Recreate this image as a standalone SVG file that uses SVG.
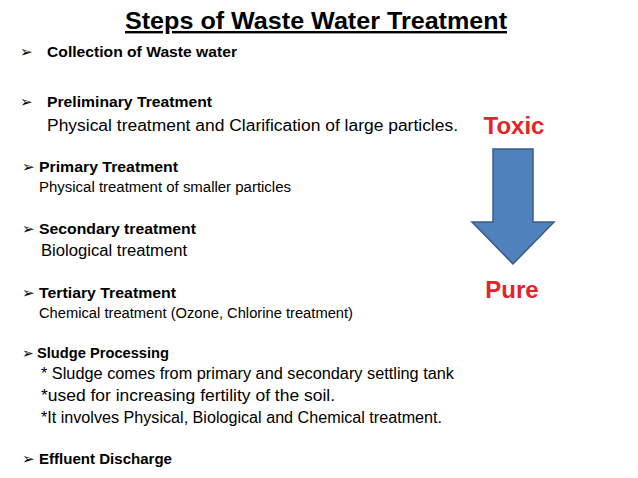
<svg xmlns="http://www.w3.org/2000/svg" width="638" height="478" viewBox="0 0 638 478">
<style>
text{font-family:"Liberation Sans","DejaVu Sans",sans-serif;fill:#000}
.b{font-weight:bold;font-size:15px}
.n{font-size:16px}
.s{font-size:14px}
.bl{font-size:15px}
.r{fill:#e3242b;font-weight:bold;font-size:24px}
</style>
<rect width="638" height="478" fill="#fff"/>
<g id="title"><text x="316" y="29" text-anchor="middle" font-size="24" font-weight="bold" text-decoration="underline" textLength="382" lengthAdjust="spacingAndGlyphs">Steps of Waste Water Treatment</text></g>
<g id="collection"><text class="bl" x="20" y="57">➢</text><text class="b" x="47" y="57" textLength="190" lengthAdjust="spacingAndGlyphs">Collection of Waste water</text></g>
<g id="preliminary"><text class="bl" x="20" y="107">➢</text><text class="b" x="47" y="107" textLength="165" lengthAdjust="spacingAndGlyphs">Preliminary Treatment</text>
<text class="n" x="47" y="131" textLength="411" lengthAdjust="spacingAndGlyphs">Physical treatment and Clarification of large particles.</text></g>
<g id="primary"><text class="bl" x="22" y="172">➢</text><text class="b" x="39" y="172" textLength="139" lengthAdjust="spacingAndGlyphs">Primary Treatment</text>
<text class="s" x="39" y="192" textLength="252" lengthAdjust="spacingAndGlyphs">Physical treatment of  smaller particles</text></g>
<g id="secondary"><text class="bl" x="22" y="234">➢</text><text class="b" x="39" y="234" textLength="157" lengthAdjust="spacingAndGlyphs">Secondary treatment</text>
<text class="n" x="41" y="256" textLength="146" lengthAdjust="spacingAndGlyphs">Biological treatment</text></g>
<g id="tertiary"><text class="bl" x="22" y="298">➢</text><text class="b" x="39" y="298" textLength="137" lengthAdjust="spacingAndGlyphs">Tertiary Treatment</text>
<text class="s" x="39" y="318" textLength="314" lengthAdjust="spacingAndGlyphs">Chemical treatment (Ozone, Chlorine treatment)</text></g>
<g id="sludge"><text class="s" x="22" y="358">➢</text><text class="b" x="37" y="358" textLength="132" lengthAdjust="spacingAndGlyphs">Sludge Processing</text>
<text class="n" x="41" y="379" textLength="413" lengthAdjust="spacingAndGlyphs">* Sludge comes from primary and secondary settling tank</text>
<text class="n" x="41" y="401" textLength="294" lengthAdjust="spacingAndGlyphs">*used for increasing fertility of the soil.</text>
<text class="n" x="41" y="423" textLength="401" lengthAdjust="spacingAndGlyphs">*It involves Physical, Biological and Chemical treatment.</text></g>
<g id="effluent"><text class="bl" x="22" y="464">➢</text><text class="b" x="39" y="464" textLength="133" lengthAdjust="spacingAndGlyphs">Effluent Discharge</text></g>
<g id="toxic"><text class="r" x="514" y="134" text-anchor="middle">Toxic</text></g>
<g id="pure"><text class="r" x="512" y="298" text-anchor="middle">Pure</text></g>
<g id="connectors"><polygon points="493,149 533,149 533,222 554,222 513,264 472,222 493,222" fill="#4f81bd" stroke="#385d8a" stroke-width="1.5"/></g>
</svg>
